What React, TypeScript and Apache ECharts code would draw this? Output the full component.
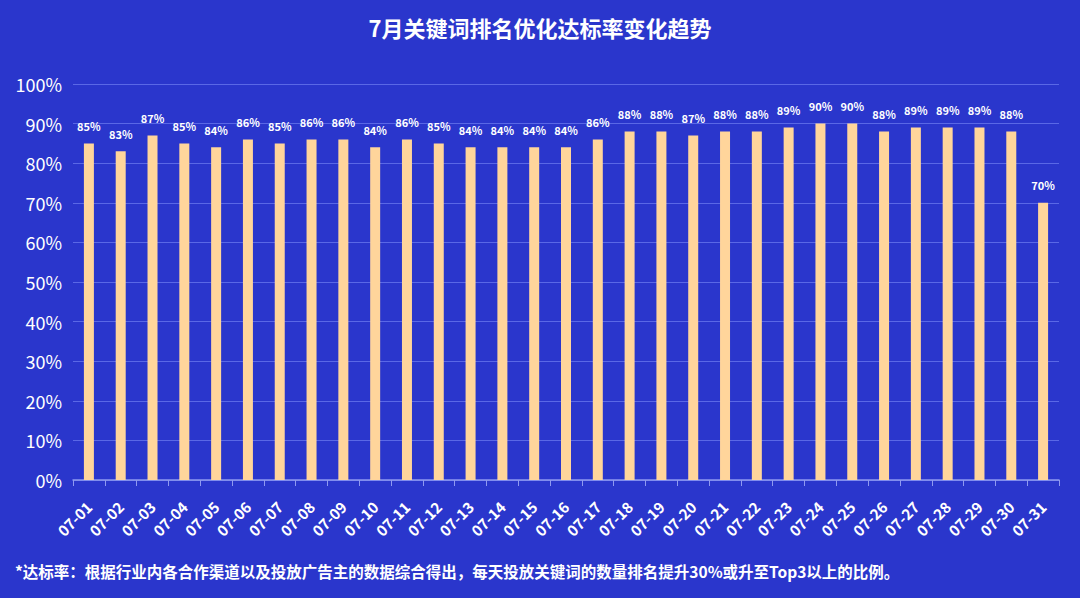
import React, { useEffect, useRef } from "react";
import * as echarts from "echarts";

const categories = ["07-01","07-02","07-03","07-04","07-05","07-06","07-07","07-08","07-09","07-10","07-11","07-12","07-13","07-14","07-15","07-16","07-17","07-18","07-19","07-20","07-21","07-22","07-23","07-24","07-25","07-26","07-27","07-28","07-29","07-30","07-31"];
const rates = [85,83,87,85,84,86,85,86,86,84,86,85,84,84,84,84,86,88,88,87,88,88,89,90,90,88,89,89,89,88,70];
const titleText = "7月关键词排名优化达标率变化趋势";
const footnote = "*达标率：根据行业内各合作渠道以及投放广告主的数据综合得出，每天投放关键词的数量排名提升30%或升至Top3以上的比例。";

const FONT = "'Noto Sans CJK SC', 'Noto Sans', sans-serif";

export default function App() {
  const ref = useRef<HTMLDivElement>(null);
  useEffect(() => {
    const chart = echarts.init(ref.current!, null, { renderer: "svg" });
    chart.setOption({
      animation: false,
      backgroundColor: "#2a36cc",
      title: {
        text: titleText,
        left: "center",
        top: 11,
        textStyle: { color: "#ffffff", fontSize: 22, fontWeight: "bold", fontFamily: FONT },
      },
      graphic: [
        {
          type: "text",
          left: 15,
          top: 563,
          style: { text: footnote, fill: "#ffffff", font: `bold 15.5px ${FONT}` },
        },
      ],
      grid: { left: 73, right: 21, top: 84, bottom: 118 },
      xAxis: {
        type: "category",
        data: categories,
        axisLine: { lineStyle: { color: "#8f9af0", width: 1.5 } },
        axisTick: { show: true, lineStyle: { color: "#8f9af0" }, length: 6 },
        axisLabel: {
          color: "#ffffff",
          rotate: 45,
          fontSize: 15,
          fontWeight: "bold",
          fontFamily: FONT,
          interval: 0,
          margin: 24,
        },
      },
      yAxis: {
        type: "value",
        min: 0,
        max: 100,
        interval: 10,
        axisLabel: { color: "#ffffff", fontSize: 18, fontFamily: FONT, formatter: "{value}%", margin: 11 },
        axisLine: { show: false },
        axisTick: { show: false },
        splitLine: { lineStyle: { color: "#5a68e6", width: 1 } },
      },
      series: [
        {
          type: "bar",
          data: rates,
          barWidth: 10,
          itemStyle: { color: "#ffd59b" },
          label: {
            show: true,
            position: "top",
            distance: 12,
            color: "#ffffff",
            fontSize: 11,
            fontWeight: "bold",
            fontFamily: FONT,
            formatter: "{c}%",
          },
        },
      ],
    });
    return () => chart.dispose();
  }, []);
  return <div ref={ref} style={{ width: 1080, height: 598, position: "absolute", left: 0, top: 0 }} />;
}
